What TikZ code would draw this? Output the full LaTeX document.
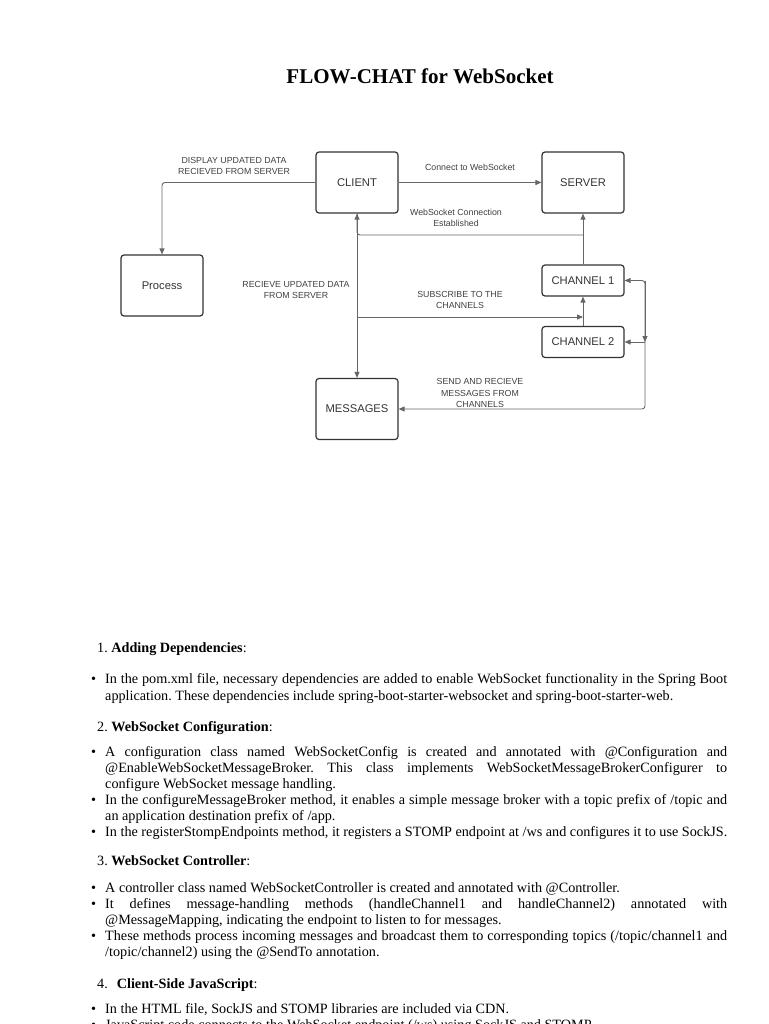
\documentclass[tikz,border=0pt]{standalone}
\usepackage{fontspec}
\setmainfont{Liberation Serif}
\newfontfamily\diagfont{Liberation Sans}
\usetikzlibrary{arrows.meta}
\definecolor{edgegray}{HTML}{666666}
\definecolor{boxgray}{HTML}{333333}
\definecolor{labgray}{HTML}{404040}
\newcommand{\jline}[1]{\makebox[622pt][s]{#1}}
\frenchspacing

\begin{document}
\begin{tikzpicture}[x=1pt,y=-1pt,
  box/.style={draw=boxgray,line width=1.2pt,rounded corners=3pt,minimum width=82pt,text=boxgray,font=\diagfont\fontsize{11.2}{13}\selectfont},
  flow/.style={draw=edgegray,line width=0.9pt,-{Triangle[length=6pt,width=5pt]},rounded corners=3pt},
  lab/.style={align=center,text=labgray,inner sep=0pt,font=\diagfont\fontsize{8.8}{11.5}\selectfont},
  body/.style={anchor=base west,inner sep=0pt,font=\fontsize{14.2}{17}\selectfont}]
\useasboundingbox (0,0) rectangle (768,1024);

\node[font=\bfseries\fontsize{21}{25}\selectfont] (title) at (420,76) {FLOW-CHAT for WebSocket};

% boxes of the chart
\foreach \n/\x/\y/\h/\t in {client/357/182.5/61/CLIENT,server/583/182.5/61/SERVER,proc/162/285.5/61/Process,ch1/583/280.5/31/CHANNEL 1,ch2/583/342/31/CHANNEL 2,msg/357/409/61/MESSAGES}
  \node[box,minimum height=\h pt] (\n) at (\x,\y) {\t};

\coordinate (est) at (583,235);
\coordinate (sub) at (357,317);
\coordinate (r2) at (645,342);

\draw[flow] (client.west) -| (proc.north);
\draw[flow] (client.east) -- (server.west);
\draw[flow] (ch1.north) -- (server.south);
\draw[flow] (est) -| (client.south);
\draw[flow] (client.south) -- (msg.north);
\draw[flow] (sub) -- (sub -| ch1.south);
\draw[flow] (ch2.north) -- (ch1.south);
\draw[flow] (r2) |- (ch1.east);
\draw[flow] (ch1.east -| r2) -- (r2);
\draw[flow] (r2) -- (ch2.east);
\draw[flow] (r2) |- (msg.east);

\node[lab] (l-display) at (234,166) {DISPLAY UPDATED DATA\\RECIEVED FROM SERVER};
\node[lab] (l-connect) at (470,167) {Connect to WebSocket};
\node[lab] (l-est) at (456,218) {WebSocket Connection\\Established};
\node[lab] (l-recv) at (296,290) {RECIEVE UPDATED DATA\\FROM SERVER};
\node[lab] (l-sub) at (460,300) {SUBSCRIBE TO THE\\CHANNELS};
\node[lab] (l-send) at (480,393) {SEND AND RECIEVE\\MESSAGES FROM\\CHANNELS};

% text below the chart
\node[body] (h1) at (97,652) {1. \textbf{Adding Dependencies}:};
\node[body] (t11) at (105,683) {\jline{In the pom.xml file, necessary dependencies are added to enable WebSocket functionality in the Spring Boot}};
\node[body] (t12) at (105,700) {application. These dependencies include spring-boot-starter-websocket and spring-boot-starter-web.};

\node[body] (h2) at (97,731) {2. \textbf{WebSocket Configuration}:};
\node[body] (t21) at (105,756) {\jline{A configuration class named WebSocketConfig is created and annotated with @Configuration and}};
\node[body] (t22) at (105,772) {\jline{@EnableWebSocketMessageBroker. This class implements WebSocketMessageBrokerConfigurer to}};
\node[body] (t23) at (105,788) {configure WebSocket message handling.};
\node[body] (t24) at (105,804) {\jline{In the configureMessageBroker method, it enables a simple message broker with a topic prefix of /topic and}};
\node[body] (t25) at (105,820) {an application destination prefix of /app.};
\node[body] (t26) at (105,836) {In the registerStompEndpoints method, it registers a STOMP endpoint at /ws and configures it to use SockJS.};

\node[body] (h3) at (97,865) {3. \textbf{WebSocket Controller}:};
\node[body] (t31) at (105,892) {A controller class named WebSocketController is created and annotated with @Controller.};
\node[body] (t32) at (105,908) {\jline{It defines message-handling methods (handleChannel1 and handleChannel2) annotated with}};
\node[body] (t33) at (105,924) {@MessageMapping, indicating the endpoint to listen to for messages.};
\node[body] (t34) at (105,940) {\jline{These methods process incoming messages and broadcast them to corresponding topics (/topic/channel1 and}};
\node[body] (t35) at (105,956) {/topic/channel2) using the @SendTo annotation.};

\node[body] (h4) at (97,988) {4.\hspace{9pt}\textbf{Client-Side JavaScript}:};
\node[body] (t41) at (105,1013) {In the HTML file, SockJS and STOMP libraries are included via CDN.};
\node[body] (t42) at (105,1029) {JavaScript code connects to the WebSocket endpoint (/ws) using SockJS and STOMP.};

\foreach \y in {683,756,804,836,892,908,940,1013,1029}
  \node[body] at (91,\y) {\textbullet};
\end{tikzpicture}
\end{document}
